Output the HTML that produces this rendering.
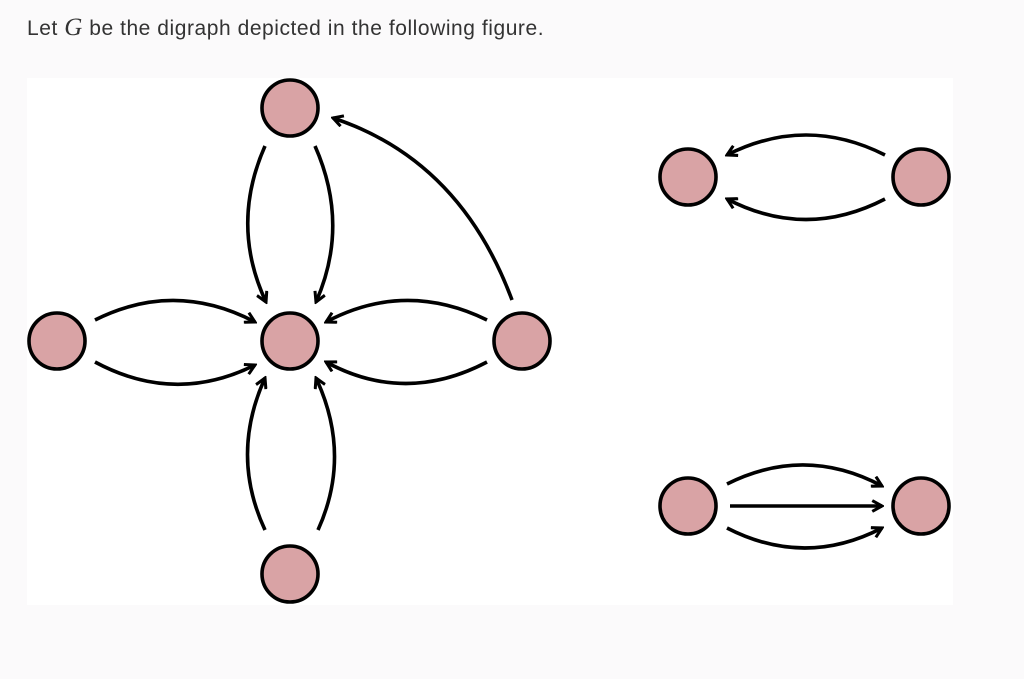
<!DOCTYPE html>
<html><head><style>
body{margin:0;width:1024px;height:679px;background:#fbfafb;font-family:"Liberation Sans",sans-serif;overflow:hidden}
.t{position:absolute;left:27px;top:14px;font-size:21px;letter-spacing:0.55px;color:#333}
.t i{font-family:"Liberation Serif",serif;font-size:25px}
svg{position:absolute;left:0;top:0}
</style></head><body>
<div class="t">Let <i>G</i> be the digraph depicted in the following figure.</div>
<svg width="1024" height="679">
<defs><marker id="a" viewBox="0 0 12 12" refX="10" refY="6" markerWidth="13" markerHeight="13" markerUnits="userSpaceOnUse" orient="auto">
<path d="M1,1 L10,6 L1,11" fill="none" stroke="#000" stroke-width="2.8"/></marker></defs>
<rect x="27" y="78" width="926" height="527" fill="#fff"/>
<g fill="none" stroke="#000" stroke-width="3.6" marker-end="url(#a)">
<path d="M95,320 Q175,280 255,322"/>
<path d="M95,362 Q175,405 255,365"/>
<path d="M487,320 Q405,280 326,322"/>
<path d="M487,362 Q405,405 326,362"/>
<path d="M265,146 Q230,225 266,302"/>
<path d="M315,146 Q350,225 316,302"/>
<path d="M265,530 Q230,455 265,378"/>
<path d="M318,530 Q352,455 316,378"/>
<path d="M512,300 Q460,160 333,118"/>
<path d="M885,155 Q806,115 727,155"/>
<path d="M885,199 Q806,240 727,199"/>
<path d="M727,484 Q805,445 882,486"/>
<path d="M730,506 L882,506"/>
<path d="M727,528 Q805,568 882,528"/>
</g>
<g fill="#d9a3a5" stroke="#000" stroke-width="3.6">
<circle cx="290" cy="108" r="28"/><circle cx="57" cy="341" r="28"/><circle cx="290" cy="341" r="28"/>
<circle cx="522" cy="341" r="28"/><circle cx="290" cy="574" r="28"/>
<circle cx="688" cy="177" r="28"/><circle cx="921" cy="177" r="28"/>
<circle cx="688" cy="506" r="28"/><circle cx="921" cy="506" r="28"/>
</g>
</svg>
</body></html>
